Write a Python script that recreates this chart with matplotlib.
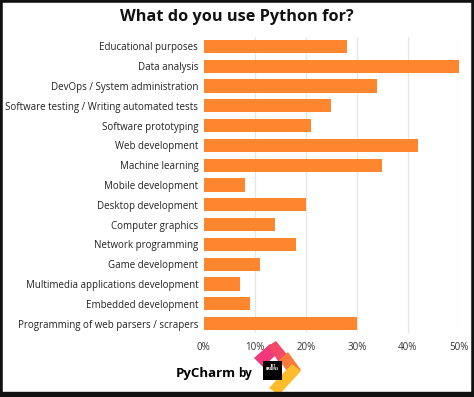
import matplotlib
matplotlib.use('Agg')
import matplotlib.pyplot as plt
from matplotlib.patches import Rectangle, Polygon

categories = [
    'Educational purposes',
    'Data analysis',
    'DevOps / System administration',
    'Software testing / Writing automated tests',
    'Software prototyping',
    'Web development',
    'Machine learning',
    'Mobile development',
    'Desktop development',
    'Computer graphics',
    'Network programming',
    'Game development',
    'Multimedia applications development',
    'Embedded development',
    'Programming of web parsers / scrapers',
]
shares = [28, 50, 34, 25, 21, 42, 35, 8, 20, 14, 18, 11, 7, 9, 30]
ticks = [0, 10, 20, 30, 40, 50]
tick_labels = ['0%', '10%', '20%', '30%', '40%', '50%']

plt.rcParams['font.family'] = ['Open Sans', 'DejaVu Sans']

fig = plt.figure(figsize=(4.74, 3.97), dpi=100)
ax = fig.add_axes([0.430, 0.160, 0.538, 0.748])

ax.barh(range(len(categories)), shares, height=0.66, color='#fd862e', zorder=3)
ax.set_xlim(0, 50)
ax.set_ylim(len(categories) - 0.5, -0.5)
ax.set_yticks(range(len(categories)))
ax.set_yticklabels(categories, fontsize=7, color='#222222')
ax.set_xticks(ticks)
ax.set_xticklabels(tick_labels, fontsize=7, color='#333333')
ax.tick_params(length=0, pad=4)
ax.tick_params(axis='x', pad=6)
for t in ticks[1:]:
    ax.axvline(t, color='#e6e6e6', lw=0.9, zorder=1)
for s in ax.spines.values():
    s.set_visible(False)

fig.text(0.5, 0.958, 'What do you use Python for?', ha='center', va='center',
         fontsize=11.7, fontweight='bold', color='#111111')

# footer logo
fig.text(0.434, 0.06, 'PyCharm', ha='center', va='center', fontsize=9.5,
         fontweight='bold', color='#000000')
fig.text(0.516, 0.058, 'by', ha='center', va='center', fontsize=8.5,
         fontweight='bold', color='#000000')

def px(x, y):
    return (x / 474, 1 - y / 397)

def poly(pts, c):
    fig.patches.append(Polygon([px(*p) for p in pts], closed=True,
                               transform=fig.transFigure, color=c, lw=0))

poly([(254, 358), (270, 344), (279, 352), (263, 367)], '#f0387a')
poly([(268, 346), (276, 341), (289, 357), (280, 364)], '#f44866')
poly([(279, 360), (288, 352), (301, 370), (292, 378)], '#fb7a3c')
poly([(292, 364), (301, 371), (279, 395), (269, 388)], '#fcbd2c')
fig.patches.append(Rectangle(px(263, 380), 19 / 474, 19 / 397, transform=fig.transFigure,
                             color='#000000', lw=0))
fig.text(272.5 / 474, 1 - 367 / 397, 'JET\nBRAINS', ha='center', va='center',
         fontsize=2.5, fontweight='bold', color='white', linespacing=0.9)

# dark frame
fig.patches.append(Rectangle((0, 0), 1, 1, transform=fig.transFigure, fill=False,
                             edgecolor='#111111', lw=4))
fig.patches.append(Rectangle((0, 0), 1, 5 / 397, transform=fig.transFigure,
                             color='#111111'))

fig.savefig('out.png', dpi=100)
